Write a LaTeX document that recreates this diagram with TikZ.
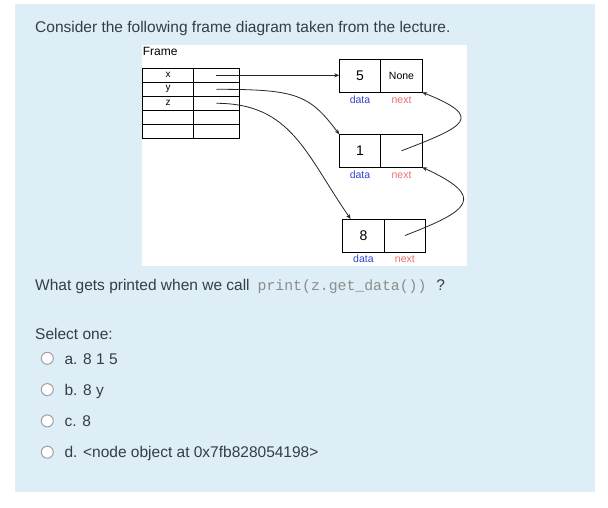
\documentclass[tikz,border=0pt]{standalone}
\usepackage{fontspec}
\setmainfont{Liberation Sans}
\setmonofont{Liberation Mono}
\usetikzlibrary{positioning,arrows.meta}

\begin{document}
\begin{tikzpicture}[x=1pt, y=1pt,
  cell/.style={draw, line width=1pt, inner sep=0pt, outer sep=0pt, minimum height=14pt, anchor=north west, font=\fontsize{10}{10}\selectfont},
  box/.style={draw, line width=1pt, inner sep=0pt, outer sep=0pt, minimum width=41.5pt, minimum height=33pt},
  ptr/.style={line width=0.8pt, draw=black!85, -{Stealth[length=5pt,width=4pt]}},
  tag/.style={inner sep=0pt, text height=7.5pt, text depth=0pt, font=\fontsize{10.5}{10.5}\selectfont},
  choice/.style={anchor=base west, inner sep=0pt, text=ink, font=\fontsize{15.5}{18}\selectfont},
  radio/.style={circle, draw=gray!75, fill=white, line width=1pt, minimum size=12pt, inner sep=0pt}
]
  \definecolor{panel}{RGB}{221,238,247}
  \definecolor{ink}{RGB}{50,62,72}
  \definecolor{code}{RGB}{140,140,140}
  \definecolor{datablue}{RGB}{50,70,205}
  \definecolor{nextred}{RGB}{232,110,115}

  \useasboundingbox (0,0) rectangle (608,-507);
  \fill[panel] (15,-4) rectangle (595,-492);
  \fill[white] (141.5,-44.5) rectangle (467,-266);

  \node[choice] (intro) at (35,-32.7) {Consider the following frame diagram taken from the lecture.};

  % frame table
  \node[anchor=base west, inner sep=0pt, font=\fontsize{12}{12}\selectfont] (frame) at (142.7,-55.7) {Frame};
  \foreach \i/\name in {0/x,1/y,2/z,3/{},4/{}} {
    \node[cell, minimum width=50.6pt] (key\i) at (142.7,-68.3-14*\i) {\name};
    \node[cell, minimum width=46pt] (val\i) at (193.3,-68.3-14*\i) {};
  }

  % list nodes
  \node[box, font=\fontsize{14}{14}\selectfont] (data5) at (360,-75.8) {5};
  \node[box, right=0pt of data5, font=\fontsize{10.5}{10.5}\selectfont] (next5) {None};
  \node[box, font=\fontsize{14}{14}\selectfont] (data1) at (360,-150.8) {1};
  \node[box, right=0pt of data1] (next1) {};
  \node[box, font=\fontsize{14}{14}\selectfont] (data8) at (363.4,-235.5) {8};
  \node[box, right=0pt of data8] (next8) {};

  \node[tag, text=datablue, below=3pt of data5] (tagd5) {data};
  \node[tag, text=nextred, below=3pt of next5] (tagn5) {next};
  \node[tag, text=datablue, below=3pt of data1] (tagd1) {data};
  \node[tag, text=nextred, below=3pt of next1] (tagn1) {next};
  \node[tag, text=datablue, below=3pt of data8] (tagd8) {data};
  \node[tag, text=nextred, below=3pt of next8] (tagn8) {next};

  % pointers
  \draw[ptr] (val0.center) -- (val0.center -| data5.west);
  \draw[ptr] (val1.center) .. controls +(80,0) and +(-30,40) .. (data1.north west);
  \draw[ptr] (val2.center) .. controls +(75,0) and +(-45,65) .. ([xshift=8pt]data8.north west);
  \draw[ptr] (next1.center) .. controls +(65,25) and +(62,-25) .. (next5.south east);
  \draw[ptr] (next8.center) .. controls +(65,25) and +(65,-30) .. (next1.south east);

  \node[choice] (question) at (35,-290) {What gets printed when we call\hspace{8pt}\textcolor{code}{\fontsize{14.8}{18}\selectfont\texttt{print(z.get\_data())}}\hspace{10pt}?};
  \node[choice] (select) at (35,-339) {Select one:};

  \foreach \i/\txt in {0/{a. 8 1 5},1/{b. 8 y},2/{c. 8},3/{d. <node object at 0x7fb828054198>}} {
    \node[radio] (radio\i) at (47.3,-358.3-31.3*\i) {};
    \node[choice] (option\i) at (64.3,-364.3-31*\i) {\txt};
  }
\end{tikzpicture}
\end{document}
